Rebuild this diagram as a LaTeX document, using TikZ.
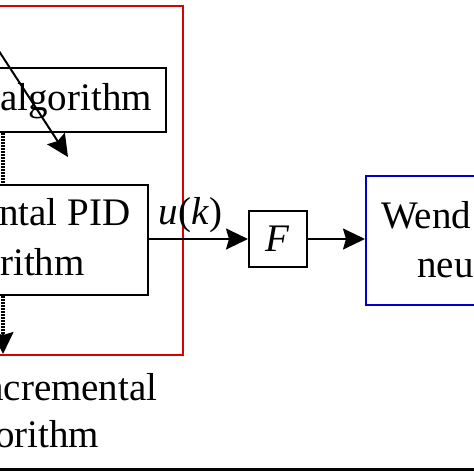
\documentclass[tikz,border=0pt]{standalone}
\usepackage{fontspec}
\setmainfont{Liberation Serif}
\usetikzlibrary{arrows.meta}

\begin{document}
\begin{tikzpicture}[x=1pt,y=-1pt,
    every node/.style={inner sep=0pt,font=\fontsize{39}{47}\selectfont},
    blockbox/.style={draw=black,line width=2pt,rectangle},
    frontbox/.style={draw=red!85!black,line width=2pt,rectangle},
    netbox/.style={draw=blue!80!black,line width=2pt,rectangle},
    arr/.style={line width=2pt,-{Stealth[length=22pt,width=21pt,inset=3pt]}},
    dots/.style={line width=3.5pt,dash pattern=on 1.5pt off 1.5pt}]
    \useasboundingbox (0,0) rectangle (474,474);
    \clip (0,0) rectangle (474,474);
    % boxes
    \node[frontbox,minimum width=243pt,minimum height=349pt] (frame) at (61.5,180.5) {};
    \node[blockbox,minimum width=226pt,minimum height=64pt] (alg) at (53,100) {};
    \node[blockbox,minimum width=208pt,minimum height=110pt] (pid) at (44,240) {};
    \node[blockbox,minimum width=58pt,minimum height=56pt] (gain) at (278,239) {\textit{F}};
    \node[netbox,minimum width=194pt,minimum height=129pt] (net) at (463,240.5) {};
    % texts
    \node[anchor=base west] (algtxt) at (0,110) {algorithm};
    \node[anchor=base west] (pidtxt) at (-1,225) {ntal PID};
    \node[anchor=base west] (pidtxtb) at (0,275) {rithm};
    \node[anchor=base west] (inctxt) at (-16,400) {ncremental};
    \node[anchor=base west] (inctxtb) at (-5,447) {orithm};
    \node[anchor=base west] (nettxt) at (381,228) {Wend};
    \node[anchor=base west] (nettxtb) at (417,277) {neu};
    % connectors
    \coordinate (slantin) at (-20,22);
    \coordinate (slantout) at (68,157);
    \coordinate (dotx) at (3,0);
    \draw[arr] (slantin) -- (slantout);
    \draw[dots] (alg.south -| dotx) -- (pid.north -| dotx);
    \draw[dots] (pid.south -| dotx) -- ([yshift=20pt]frame.south -| dotx);
    \draw[arr] ([yshift=22pt]frame.south -| dotx) -- ([yshift=2pt]frame.south -| dotx);
    \draw[arr] (gain.west -| pid.east) -- (gain.west)
        node[pos=0.42,anchor=south,yshift=5pt] (ulabel) {\textit{u}(\textit{k})};
    \draw[arr] (gain.east) -- (gain.east -| net.west);
    % bottom rule
    \draw[line width=3pt] (0,469.5) -- (474,469.5);
\end{tikzpicture}
\end{document}
